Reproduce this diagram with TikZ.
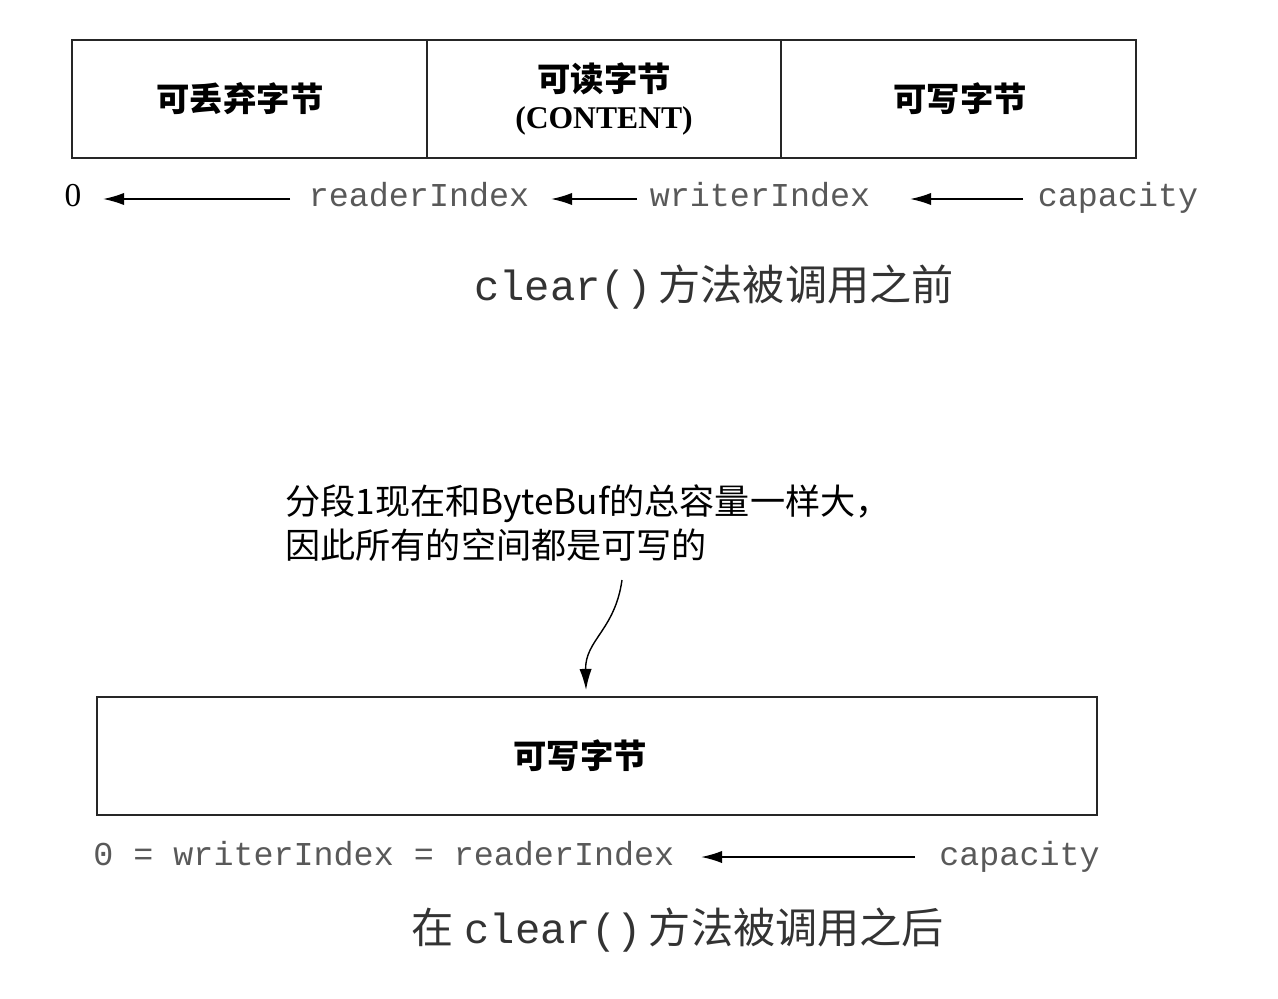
\documentclass[tikz,border=0pt]{standalone}
\usepackage{fontspec}
\setmainfont{Liberation Serif}
\setmonofont{Liberation Mono}
\newfontfamily\cjk{Noto Sans CJK SC}
\usetikzlibrary{arrows.meta}
\begin{document}
\begin{tikzpicture}[x=0.02cm,y=-0.02cm,
  cell/.style={draw=black!85,line width=1.2pt},
  bt/.style={font=\cjk\bfseries\fontsize{19}{23}\selectfont,align=center},
  idx/.style={font=\ttfamily\fontsize{19}{22}\selectfont,text=black!65,inner sep=0pt,anchor=base},
  captext/.style={font=\fontsize{24}{28}\selectfont,text=black!80,inner sep=0pt},
  arr/.style={-{Latex[length=12pt,width=7pt]},line width=1pt}]
\useasboundingbox (0,0) rectangle (1278,998);
% top
\draw[cell] (72,40) rectangle (1136,158);
\draw[cell] (427,40) -- (427,158) (781,40) -- (781,158);
\node[bt] (d) at (240,99) {可丢弃字节};
\node[bt] (r) at (604,99) {可读字节\\[-2pt]{\rmfamily\fontsize{18}{22}\selectfont (CONTENT)}};
\node[bt] (w) at (960,99) {可写字节};
\node[font=\fontsize{19}{22}\selectfont,inner sep=0pt,anchor=base] (z) at (73,206) {0};
\node[idx] (ri) at (419,206) {readerIndex};
\node[idx] (wi) at (760,206) {writerIndex};
\node[idx] (ca) at (1118,206) {capacity};
\coordinate (a1s) at (290,199); \coordinate (a1e) at (103,199);
\coordinate (a2s) at (637,199); \coordinate (a2e) at (551,199);
\coordinate (a3s) at (1023,199); \coordinate (a3e) at (910,199);
\draw[arr] (a1s) -- (a1e);
\draw[arr] (a2s) -- (a2e);
\draw[arr] (a3s) -- (a3e);
\node[captext] (c1) at (714,287) {\ttfamily clear()\,{\cjk 方法被调用之前}};
% bottom
\node[font=\cjk\fontsize{20}{25}\selectfont,align=left,anchor=north west,inner sep=0pt] (note) at (285,484) {分段1现在和ByteBuf的总容量一样大，\\因此所有的空间都是可写的};
\draw[cell] (97,697) rectangle (1097,815);
\node[bt] (w2) at (580,756) {可写字节};
\coordinate (cs) at (622,580);
\coordinate (ce) at (586,690);
\draw[arr,line width=0.8pt] (cs) .. controls (615,630) and (585,640) .. (ce);
\node[idx,anchor=base west] (bi) at (93,865) {0 = writerIndex = readerIndex};
\node[idx,anchor=base east] (bc) at (1100,865) {capacity};
\coordinate (b1s) at (915,857); \coordinate (b1e) at (701,857);
\draw[arr] (b1s) -- (b1e);
\node[captext] (c2) at (678,930) {{\cjk 在} \ttfamily clear()\,{\cjk 方法被调用之后}};
\end{tikzpicture}
\end{document}
